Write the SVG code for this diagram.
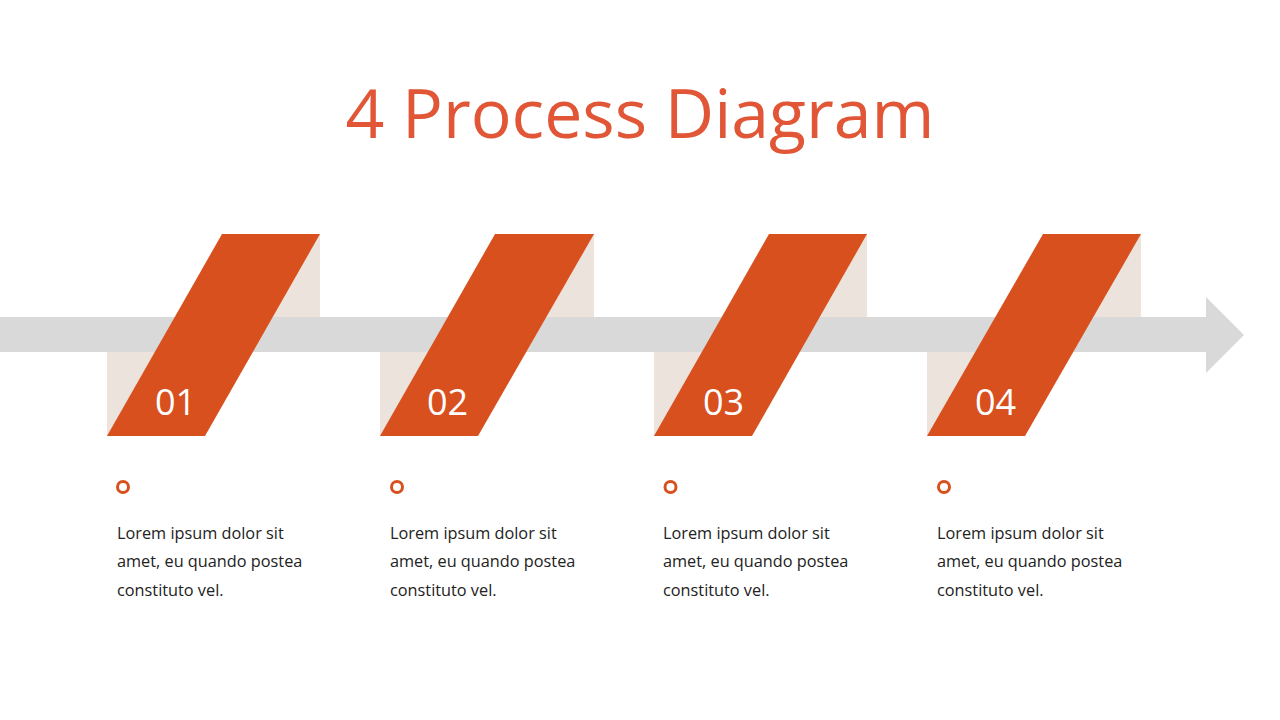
<svg xmlns="http://www.w3.org/2000/svg" width="1280" height="720" viewBox="0 0 1280 720">
<style>
.bg{fill:#ede3dd}
.band{fill:#d9501f}
.bar{fill:#d9d9d9}
.num{font-family:"Open Sans","Noto Sans",sans-serif;font-size:36px;fill:#ffffff}
.title{font-family:"Open Sans","Noto Sans",sans-serif;font-size:68px;fill:#e05637}
.body{font-family:"Open Sans","Noto Sans",sans-serif;font-size:16.3px;fill:#222222}
.dot{fill:none;stroke:#d9501f;stroke-width:3}
</style>
<rect width="1280" height="720" fill="#ffffff"/>
<text class="title" x="640" y="138" text-anchor="middle">4 Process Diagram</text>
<g id="beige">
<rect class="bg" x="250" y="234" width="70" height="84"/>
<rect class="bg" x="107" y="351" width="70" height="85"/>
<rect class="bg" x="523" y="234" width="71" height="84"/>
<rect class="bg" x="380" y="351" width="70" height="85"/>
<rect class="bg" x="796" y="234" width="71" height="84"/>
<rect class="bg" x="654" y="351" width="70" height="85"/>
<rect class="bg" x="1070" y="234" width="71" height="84"/>
<rect class="bg" x="927" y="351" width="70" height="85"/>
</g>
<g id="connectors">
<path class="bar" d="M0,317 H1206 V297 L1244,335 L1206,373 V352 H0 Z"/>
</g>
<g id="step1">
<polygon class="band" points="222,234 320,234 205,436 107,436"/>
<text class="num" x="155" y="415">01</text>
<circle class="dot" cx="123" cy="487" r="5.5"/>
<text class="body" x="117" y="539">Lorem ipsum dolor sit</text>
<text class="body" x="117" y="567">amet, eu quando postea</text>
<text class="body" x="117" y="596">constituto vel.</text>
</g>
<g id="step2">
<polygon class="band" points="495,234 594,234 478,436 380,436"/>
<text class="num" x="427" y="415">02</text>
<circle class="dot" cx="397" cy="487" r="5.5"/>
<text class="body" x="390" y="539">Lorem ipsum dolor sit</text>
<text class="body" x="390" y="567">amet, eu quando postea</text>
<text class="body" x="390" y="596">constituto vel.</text>
</g>
<g id="step3">
<polygon class="band" points="769,234 867,234 752,436 654,436"/>
<text class="num" x="703" y="415">03</text>
<circle class="dot" cx="670.5" cy="487" r="5.5"/>
<text class="body" x="663" y="539">Lorem ipsum dolor sit</text>
<text class="body" x="663" y="567">amet, eu quando postea</text>
<text class="body" x="663" y="596">constituto vel.</text>
</g>
<g id="step4">
<polygon class="band" points="1043,234 1141,234 1025,436 927,436"/>
<text class="num" x="975" y="415">04</text>
<circle class="dot" cx="944" cy="487" r="5.5"/>
<text class="body" x="937" y="539">Lorem ipsum dolor sit</text>
<text class="body" x="937" y="567">amet, eu quando postea</text>
<text class="body" x="937" y="596">constituto vel.</text>
</g>
</svg>
